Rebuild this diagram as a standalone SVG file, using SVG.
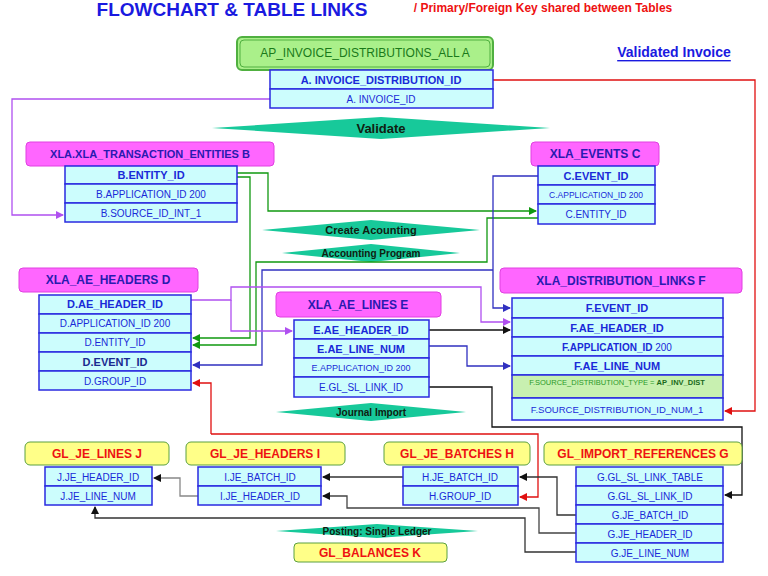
<svg xmlns="http://www.w3.org/2000/svg" width="768" height="576" viewBox="0 0 768 576">
<defs>
<style>
text{font-family:"Liberation Sans Narrow","Liberation Sans",Arial,sans-serif;text-anchor:middle;dominant-baseline:central}
.row{fill:#ccfdfd;stroke:#2a2ae0;stroke-width:1.5}
.rt{fill:#1a2ad8;font-size:10px}
.rb{fill:#1a2ad8;font-size:11px;font-weight:bold}
.mh{fill:#ff66ff;stroke:#e040e0;stroke-width:1}
.mt{fill:#2a1ab0;font-size:12px;font-weight:bold}
.yh{fill:#ffff88;stroke:#5aa040;stroke-width:1}
.yt{fill:#ee1111;font-size:12px;font-weight:bold}
.dia{fill:#17c99a}
.dt{fill:#102010;font-weight:bold}
.c{fill:none;stroke-width:1.3}
</style>
<marker id="ak" markerWidth="8" markerHeight="8" refX="7" refY="4" orient="auto" markerUnits="userSpaceOnUse"><path d="M0,0L8,4L0,8z" fill="#111"/></marker>
<marker id="ar" markerWidth="8" markerHeight="8" refX="7" refY="4" orient="auto" markerUnits="userSpaceOnUse"><path d="M0,0L8,4L0,8z" fill="#e01010"/></marker>
<marker id="ag" markerWidth="8" markerHeight="8" refX="7" refY="4" orient="auto" markerUnits="userSpaceOnUse"><path d="M0,0L8,4L0,8z" fill="#119911"/></marker>
<marker id="ab" markerWidth="8" markerHeight="8" refX="7" refY="4" orient="auto" markerUnits="userSpaceOnUse"><path d="M0,0L8,4L0,8z" fill="#3030c0"/></marker>
<marker id="ap" markerWidth="8" markerHeight="8" refX="7" refY="4" orient="auto" markerUnits="userSpaceOnUse"><path d="M0,0L8,4L0,8z" fill="#b050f0"/></marker>
</defs>
<rect width="768" height="576" fill="#fff"/>
<text x="232" y="9" style="font-size:19px;font-weight:bold;fill:#1a1ae0">FLOWCHART &amp; TABLE LINKS</text>
<text x="543" y="8" style="font-size:12px;font-weight:bold;fill:#ee1111">/ Primary/Foreign Key shared between Tables</text>
<text x="674" y="52" style="font-size:14px;font-weight:bold;fill:#1a1ae0;text-decoration:underline">Validated Invoice</text>

<g id="diamonds">
<polygon class="dia" points="212,128 381,117 550,128 381,139"/><text class="dt" x="381" y="128" style="font-size:13px">Validate</text>
<polygon class="dia" points="262,230 371,220 480,230 371,240"/><text class="dt" x="371" y="230" style="font-size:11px">Create Acounting</text>
<polygon class="dia" points="282,253 371,244 460,253 371,262"/><text class="dt" x="371" y="253" style="font-size:10px">Accounting Program</text>
<polygon class="dia" points="276,412 371,403 466,412 371,421"/><text class="dt" x="371" y="412" style="font-size:10px">Journal Import</text>
<polygon class="dia" points="276,531 377,524 478,531 377,538"/><text class="dt" x="377" y="531" style="font-size:10px">Posting: Single Ledger</text>
</g>

<g id="connectors">
<path class="c" stroke="#b050f0" d="M270,99H12V215H63" marker-end="url(#ap)"/>
<path class="c" stroke="#e01010" d="M493,80H755V411H725" marker-end="url(#ar)"/>
<path class="c" stroke="#119911" d="M237,173H268V211H536" marker-end="url(#ag)"/>
<path class="c" stroke="#119911" d="M237,177H250V338H193" marker-end="url(#ag)"/>
<path class="c" stroke="#119911" d="M538,218H487V262H256V345H193" marker-end="url(#ag)"/>
<path class="c" stroke="#3030c0" d="M538,176H493V308H510" marker-end="url(#ab)"/>
<path class="c" stroke="#3030c0" d="M493,270H262V365H193" marker-end="url(#ab)"/>
<path class="c" stroke="#b050f0" d="M191,300H231V287H481V322H510" marker-end="url(#ap)"/>
<path class="c" stroke="#b050f0" d="M231,300V331H292" marker-end="url(#ap)"/>
<path class="c" stroke="#111" d="M429,330H510" marker-end="url(#ak)"/>
<path class="c" stroke="#3030c0" d="M429,346H467V366H510" marker-end="url(#ab)"/>
<path class="c" stroke="#111" d="M429,387H492V427H742V495H725" marker-end="url(#ak)"/>
<path class="c" stroke="#e01010" d="M211,434V383H193" marker-end="url(#ar)"/>
<path class="c" stroke="#e01010" d="M211,434H538V497H520" marker-end="url(#ar)"/>
<path class="c" stroke="#333" d="M576,515H557V477H520" marker-end="url(#ak)"/>
<path class="c" stroke="#333" d="M403,477H323" marker-end="url(#ak)"/>
<path class="c" stroke="#444" d="M576,533H539V508H347V496H323" marker-end="url(#ak)"/>
<path class="c" stroke="#888" d="M198,496H180V478H154" marker-end="url(#ak)"/>
<path class="c" stroke="#333" d="M576,552H525V518H95V507" marker-end="url(#ak)"/>
</g>

<g id="A">
<rect x="237" y="37" width="256" height="33" rx="5" fill="#aaf08a" stroke="#50b040" stroke-width="2"/>
<rect x="240" y="40" width="250" height="27" rx="4" fill="none" stroke="#50b040" stroke-width="1"/>
<text x="365" y="53" style="font-size:12px;fill:#1a7a1a">AP_INVOICE_DISTRIBUTIONS_ALL    A</text>
<rect class="row" x="270" y="70" width="223" height="19"/><text class="rb" x="381" y="80">A. INVOICE_DISTRIBUTION_ID</text>
<rect class="row" x="270" y="89" width="223" height="19"/><text class="rt" x="381" y="99">A. INVOICE_ID</text>
</g>

<g id="B">
<rect class="mh" x="26" y="142" width="248" height="24" rx="4"/><text class="mt" x="150" y="154" style="font-size:11px">XLA.XLA_TRANSACTION_ENTITIES  B</text>
<rect class="row" x="65" y="166" width="172" height="18"/><text class="rb" x="151" y="175">B.ENTITY_ID</text>
<rect class="row" x="65" y="184" width="172" height="19"/><text class="rt" x="151" y="194">B.APPLICATION_ID    200</text>
<rect class="row" x="65" y="203" width="172" height="19"/><text class="rt" x="151" y="213">B.SOURCE_ID_INT_1</text>
</g>

<g id="C">
<rect class="mh" x="531" y="142" width="128" height="24" rx="4"/><text class="mt" x="595" y="154">XLA_EVENTS   C</text>
<rect class="row" x="538" y="166" width="117" height="19"/><text class="rb" x="596" y="176">C.EVENT_ID</text>
<rect class="row" x="538" y="185" width="117" height="19"/><text class="rt" x="596" y="195" style="font-size:8.5px">C.APPLICATION_ID 200</text>
<rect class="row" x="538" y="204" width="117" height="20"/><text class="rt" x="596" y="214">C.ENTITY_ID</text>
</g>

<g id="D">
<rect class="mh" x="19" y="268" width="179" height="24" rx="4"/><text class="mt" x="108" y="280">XLA_AE_HEADERS D</text>
<rect class="row" x="39" y="295" width="152" height="19"/><text class="rb" x="115" y="304">D.AE_HEADER_ID</text>
<rect class="row" x="39" y="314" width="152" height="19"/><text class="rt" x="115" y="323">D.APPLICATION_ID    200</text>
<rect class="row" x="39" y="333" width="152" height="19"/><text class="rt" x="115" y="342">D.ENTITY_ID</text>
<rect class="row" x="39" y="352" width="152" height="19"/><text class="rb" x="115" y="362" style="fill:#1a2a90">D.EVENT_ID</text>
<rect class="row" x="39" y="371" width="152" height="19"/><text class="rt" x="115" y="381">D.GROUP_ID</text>
</g>

<g id="E">
<rect class="mh" x="276" y="292" width="165" height="25" rx="4"/><text class="mt" x="358" y="305">XLA_AE_LINES E</text>
<rect class="row" x="294" y="320" width="135" height="19"/><text class="rb" x="361" y="330">E.AE_HEADER_ID</text>
<rect class="row" x="294" y="339" width="135" height="19"/><text class="rb" x="361" y="349">E.AE_LINE_NUM</text>
<rect class="row" x="294" y="358" width="135" height="19"/><text class="rt" x="361" y="368" style="font-size:9px">E.APPLICATION_ID 200</text>
<rect class="row" x="294" y="377" width="135" height="20"/><text class="rt" x="361" y="387">E.GL_SL_LINK_ID</text>
</g>

<g id="F">
<rect class="mh" x="500" y="268" width="242" height="25" rx="4"/><text class="mt" x="621" y="281">XLA_DISTRIBUTION_LINKS   F</text>
<rect class="row" x="512" y="298" width="211" height="20"/><text class="rb" x="617" y="308">F.EVENT_ID</text>
<rect class="row" x="512" y="318" width="211" height="19"/><text class="rb" x="617" y="328">F.AE_HEADER_ID</text>
<rect class="row" x="512" y="337" width="211" height="19"/><text class="rb" x="617" y="347" style="font-size:10px">F.APPLICATION_ID <tspan font-weight="normal">200</tspan></text>
<rect class="row" x="512" y="356" width="211" height="19"/><text class="rb" x="617" y="366">F.AE_LINE_NUM</text>
<rect x="512" y="375" width="211" height="23" fill="#c8f0b0" stroke="#2a2ae0" stroke-width="1.5"/><text x="617" y="382" style="font-size:7.5px;fill:#2a9a2a">F.SOURCE_DISTRIBUTION_TYPE = <tspan font-weight="bold" fill="#1a6a1a">AP_INV_DIST</tspan></text>
<rect class="row" x="512" y="398" width="211" height="22"/><text class="rt" x="617" y="409" style="font-size:9.5px">F.SOURCE_DISTRIBUTION_ID_NUM_1</text>
</g>

<g id="J">
<rect class="yh" x="25" y="442" width="144" height="23" rx="5"/><text class="yt" x="97" y="454">GL_JE_LINES  J</text>
<rect class="row" x="45" y="467" width="107" height="19"/><text class="rt" x="98" y="477">J.JE_HEADER_ID</text>
<rect class="row" x="45" y="486" width="107" height="19"/><text class="rt" x="98" y="496">J.JE_LINE_NUM</text>
</g>
<g id="I">
<rect class="yh" x="186" y="442" width="159" height="23" rx="5"/><text class="yt" x="265" y="454">GL_JE_HEADERS  I</text>
<rect class="row" x="198" y="467" width="123" height="19"/><text class="rt" x="260" y="477">I.JE_BATCH_ID</text>
<rect class="row" x="198" y="486" width="123" height="19"/><text class="rt" x="260" y="496">I.JE_HEADER_ID</text>
</g>
<g id="H">
<rect class="yh" x="384" y="442" width="146" height="23" rx="5"/><text class="yt" x="457" y="454">GL_JE_BATCHES  H</text>
<rect class="row" x="403" y="467" width="115" height="19"/><text class="rt" x="460" y="477">H.JE_BATCH_ID</text>
<rect class="row" x="403" y="486" width="115" height="19"/><text class="rt" x="460" y="496">H.GROUP_ID</text>
</g>
<g id="G">
<rect class="yh" x="544" y="442" width="198" height="23" rx="5"/><text class="yt" x="643" y="454">GL_IMPORT_REFERENCES G</text>
<rect class="row" x="576" y="467" width="147" height="19"/><text class="rt" x="650" y="477">G.GL_SL_LINK_TABLE</text>
<rect class="row" x="576" y="486" width="147" height="19"/><text class="rt" x="650" y="496">G.GL_SL_LINK_ID</text>
<rect class="row" x="576" y="505" width="147" height="19"/><text class="rt" x="650" y="515">G.JE_BATCH_ID</text>
<rect class="row" x="576" y="524" width="147" height="19"/><text class="rt" x="650" y="534">G.JE_HEADER_ID</text>
<rect class="row" x="576" y="543" width="147" height="19"/><text class="rt" x="650" y="553">G.JE_LINE_NUM</text>
</g>
<g id="K">
<rect class="yh" x="294" y="543" width="153" height="19" rx="4"/><text class="yt" x="370" y="553">GL_BALANCES K</text>
</g>
</svg>
